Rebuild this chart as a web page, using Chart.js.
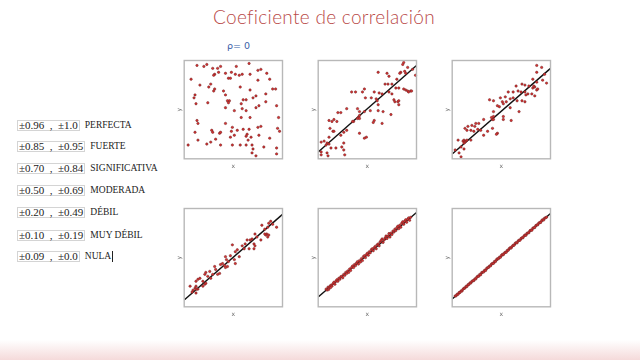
<!DOCTYPE html>
<html><head><meta charset="utf-8">
<script src="https://cdn.jsdelivr.net/npm/chart.js@4"></script>
<style>
html,body{margin:0;padding:0;background:#fff;width:640px;height:360px;overflow:hidden;position:relative;}
#title{position:absolute;left:0;width:648px;top:5px;text-align:center;font-family:Lato,"Open Sans",sans-serif;font-weight:300;font-size:19px;color:#b94a48;letter-spacing:0.3px;}
.plot{position:absolute;width:111px;height:115px;}
.row{position:absolute;left:17px;height:11px;display:flex;align-items:center;font-family:"Liberation Serif",serif;color:#222;}
.rng{border:1px solid #d4d4d4;font-size:11px;line-height:9px;padding:0 1px;white-space:pre;}
.lbl{font-size:9.5px;margin-left:5px;white-space:pre;}
.caret{display:inline-block;width:0;height:11px;border-left:1px solid #222;margin-left:1px;}
#rho{position:absolute;left:227px;top:40px;font-family:"DejaVu Sans",sans-serif;color:#3b5fa8;font-size:9.5px;}
#band{position:absolute;left:0;right:0;bottom:0;height:20px;background:linear-gradient(to bottom,rgba(255,255,255,0),#f5dada);}
</style></head>
<body>
<div id="title">Coeficiente de correlación</div>
<div id="rho">ρ= 0</div>
<div id="list"></div>
<div id="plots"></div>
<div id="band"></div>
<script>
const rangeLabels = ["±0.96  ,  ±1.0", "±0.85  ,  ±0.95", "±0.70  ,  ±0.84", "±0.50  ,  ±0.69", "±0.20  ,  ±0.49", "±0.10  ,  ±0.19", "±0.09  ,  ±0.0"];
const strengthLabels = ["PERFECTA", "FUERTE", "SIGNIFICATIVA", "MODERADA", "DÉBIL", "MUY DÉBIL", "NULA"];

const plot1 = [[13,95],[20,94],[23,96],[29,92],[34,92],[37,94],[31,86],[30,85],[35,88],[42,87],[48,88],[52,86],[53,94],[56,85],[59,86],[66,97],[67,86],[75,90],[78,91],[84,87],[7,81],[16,75],[25,73],[27,76],[31,71],[30,69],[24,57],[11,65],[10,62],[12,56],[40,69],[42,65],[45,82],[47,82],[57,73],[67,70],[75,80],[87,81],[90,71],[93,71],[70,62],[73,64],[83,66],[46,59],[44,59],[45,57],[42,52],[51,49],[58,56],[60,60],[63,60],[59,51],[63,49],[73,52],[76,54],[83,58],[94,54],[96,42],[58,42],[67,42],[13,39],[14,36],[11,27],[14,19],[28,29],[29,27],[36,26],[37,27],[42,36],[49,32],[48,28],[51,24],[54,29],[60,30],[66,30],[64,25],[63,23],[65,19],[68,22],[75,32],[78,33],[76,24],[87,21],[95,31],[97,28],[4,14],[23,15],[27,17],[32,20],[37,14],[47,22],[49,14],[57,14],[63,14],[69,14],[70,10],[73,3],[69,6],[81,12],[94,11],[94,5]];
const plot2 = [[87,98],[86,96],[91,93],[88,89],[84,88],[83,87],[89,87],[96,91],[99,85],[70,87],[72,84],[61,88],[80,81],[71,76],[68,76],[75,76],[79,72],[82,72],[89,70],[91,69],[94,69],[95,69],[92,68],[87,71],[47,71],[45,68],[34,68],[38,68],[57,68],[62,67],[65,66],[72,68],[75,66],[48,62],[54,62],[60,59],[59,61],[77,60],[78,58],[81,58],[82,59],[82,55],[40,51],[42,48],[47,48],[53,49],[61,49],[61,55],[74,45],[66,48],[42,44],[41,42],[40,41],[42,41],[36,38],[35,38],[57,39],[56,37],[65,36],[11,39],[14,38],[16,40],[19,38],[23,47],[20,47],[29,51],[29,29],[26,27],[23,24],[12,31],[15,28],[11,22],[16,28],[42,26],[47,21],[49,22],[6,18],[9,16],[11,15],[8,14],[3,17],[18,11],[26,16],[24,12],[26,9],[3,7],[3,4],[9,6],[10,3],[27,4],[13,11]];
const plot3 = [[86,95],[91,93],[86,88],[94,86],[96,77],[92,80],[82,81],[86,78],[82,72],[84,73],[86,70],[87,71],[83,74],[71,76],[74,75],[78,74],[65,74],[67,69],[70,68],[74,68],[77,66],[81,66],[84,64],[62,68],[57,68],[54,63],[55,58],[59,61],[62,62],[66,59],[71,59],[74,58],[38,60],[42,59],[49,62],[51,58],[52,56],[48,53],[46,54],[59,52],[68,48],[75,65],[42,48],[42,43],[41,40],[42,40],[40,42],[52,43],[52,40],[60,39],[32,40],[27,36],[24,36],[23,33],[20,34],[16,33],[13,31],[15,29],[19,29],[22,28],[26,30],[29,29],[41,31],[46,26],[45,25],[6,19],[11,18],[12,19],[14,18],[13,17],[15,19],[12,16],[19,19],[9,12],[12,10],[7,6],[9,2],[3,9],[36,28],[32,24]];
const plot4 = [[88,87],[86,85],[90,84],[94,81],[85,81],[82,79],[84,74],[86,73],[83,73],[82,74],[85,71],[79,83],[74,71],[72,74],[78,68],[69,69],[67,68],[71,64],[64,68],[62,64],[59,62],[61,59],[66,59],[71,59],[72,62],[49,63],[54,58],[52,56],[47,52],[42,51],[43,48],[45,46],[51,48],[52,44],[56,51],[39,44],[41,42],[44,41],[42,40],[37,43],[31,41],[32,38],[26,36],[22,35],[21,33],[24,31],[27,29],[29,33],[34,33],[36,34],[16,29],[14,28],[12,26],[19,26],[21,23],[12,21],[11,19],[13,18],[14,18],[12,18],[6,21],[9,17],[8,15],[12,14],[19,21],[22,24]];
const plot5 = [[8,18],[9,17],[10,20],[10.5,17.5],[11,19],[12,21],[12.5,19.5],[13,22],[14,21],[15,23.5],[16,25],[17,23],[18,26],[19,27.5],[20,26],[21,29],[22,28],[23,30.5],[24,31],[25,29.5],[26,33],[27,32],[28,35],[29,34],[30,36.5],[31,35],[32,38.5],[33,37],[34,40],[35,41.5],[36,40],[37,43],[38,42],[39,44.5],[40,46],[41,43.5],[42,47],[43,45.5],[44,49],[45,47],[46,51],[47,52],[48,50],[49,53],[50,54.5],[51,52.5],[52,56],[53,55],[54,58],[55,59],[56,57],[57,60],[58,61.5],[59,59],[60,63],[61,64],[62,62],[63,66],[64,67.5],[65,69],[66,65.5],[67,68],[68,70],[69,72],[70,69.5],[71,72],[72,74.5],[73,71],[74,75],[75,73.5],[76,77],[77,76],[78,79],[79,77.5],[80,80.5],[81,82],[82,79.5],[83,83],[84,81],[85,85],[86,86.5],[87,84],[88,87],[89,88.5],[90,86],[91,89],[92,90.5],[93,88],[94,91]];
const plot6 = [[3,11],[4,11.2],[5,12.8],[6,12.7],[7,14.5],[8,14.6],[9,16.2],[10,16],[11,17.9],[12,18.9],[13,19],[14,20.8],[15,20.6],[16,22.5],[17,22.6],[18,24.3],[19,24.2],[20,25.9],[21,26.5],[22,26.6],[23,28.4],[24,28.3],[25,30.1],[26,31.2],[27,31.1],[28,32.9],[29,32.6],[30,34.8],[31,35.3],[32,35.4],[33,37.2],[34,37],[35,38.9],[36,39.9],[37,40.1],[38,41.6],[39,41.6],[40,43.5],[41,44],[42,44.2],[43,46.1],[44,46],[45,47.8],[46,48.9],[47,48.8],[48,50.5],[49,50.3],[50,52.2],[51,53.3],[52,53],[53,54.6],[54,55.5],[55,55.5],[56,57.4],[57,57.5],[58,59.2],[59,60.1],[60,59.8],[61,61.5],[62,62.6],[63,62.6],[64,64.5],[65,65.3],[66,65],[67,66.9],[68,67.8],[69,67.7],[70,69.5],[71,70.2],[72,70.2],[73,72],[74,73],[75,72.7],[76,74.7],[77,75.2],[78,75.3],[79,77.3],[80,78],[81,77.8],[82,79.9],[83,80.5],[84,80.6],[85,82.5],[86,83.3],[87,83.3],[88,85.1],[89,85.7],[90,85.8],[91,87.6],[92,88.7],[93,88.2],[94,90.2],[95,90.5],[96,91.2]];

// fitted line: y at x=0 and x=100
const fit2 = [7, 95];
const fit3 = [5, 92];
const fit4 = [7, 94];
const fit5 = [10, 96];
const fit6 = [8, 95];

// build list
const rowCenters = [125, 146, 168, 190, 212, 235, 256];
const list = document.getElementById('list');
rangeLabels.forEach((r, i) => {
  const row = document.createElement('div');
  row.className = 'row';
  row.style.top = (rowCenters[i] - 5.5) + 'px';
  const a = document.createElement('span'); a.className = 'rng'; a.textContent = r;
  const b = document.createElement('span'); b.className = 'lbl'; b.textContent = strengthLabels[i];
  row.appendChild(a); row.appendChild(b);
  if (i === rangeLabels.length - 1) { const c = document.createElement('span'); c.className = 'caret'; row.appendChild(c); }
  list.appendChild(row);
});

const boxPlugin = {
  id: 'box',
  afterDatasetsDraw(chart) {
    const {ctx, chartArea: a} = chart;
    ctx.save();
    ctx.strokeStyle = '#b8b8b8';
    ctx.lineWidth = 1.4;
    ctx.strokeRect(a.left, a.top, a.right - a.left, a.bottom - a.top);
    ctx.restore();
  }
};

function makeChart(left, top, pts, fit) {
  const div = document.createElement('div');
  div.className = 'plot';
  div.style.left = left + 'px';
  div.style.top = top + 'px';
  const cv = document.createElement('canvas');
  cv.width = 111; cv.height = 115;
  div.appendChild(cv);
  document.getElementById('plots').appendChild(div);
  const datasets = [{
    type: 'scatter',
    data: pts.map(p => ({x: p[0], y: p[1]})),
    pointRadius: 1.2,
    pointBackgroundColor: '#d83030',
    pointBorderColor: '#6a2828',
    pointBorderWidth: 0.5,
    clip: 4
  }];
  if (fit) datasets.push({
    type: 'line',
    data: [{x: 0, y: fit[0]}, {x: 100, y: fit[1]}],
    borderColor: '#111',
    borderWidth: 1.4,
    pointRadius: 0,
    fill: false
  });
  const axisFont = {size: 6, family: 'DejaVu Sans'};
  new Chart(cv, {
    type: 'scatter',
    data: {datasets},
    options: {
      animation: false, responsive: false, events: [],
      plugins: {legend: {display: false}, tooltip: {enabled: false}},
      layout: {padding: {top: 1, right: 1, left: 0, bottom: 0}},
      scales: {
        x: {type: 'linear', min: 0, max: 100, ticks: {display: false}, grid: {display: false, drawTicks: false}, border: {display: false},
            title: {display: true, text: 'x', font: axisFont, color: '#666', padding: {top: 4, bottom: 1}}},
        y: {type: 'linear', min: 0, max: 100, ticks: {display: false}, grid: {display: false, drawTicks: false}, border: {display: false},
            title: {display: true, text: 'y', font: axisFont, color: '#666', padding: {top: 0, bottom: 1}}}
      }
    },
    plugins: [boxPlugin]
  });
}

makeChart(176, 56, plot1, null);
makeChart(310, 56, plot2, fit2);
makeChart(444, 56, plot3, fit3);
makeChart(176, 204, plot4, fit4);
makeChart(310, 204, plot5, fit5);
makeChart(444, 204, plot6, fit6);
</script>
</body></html>
